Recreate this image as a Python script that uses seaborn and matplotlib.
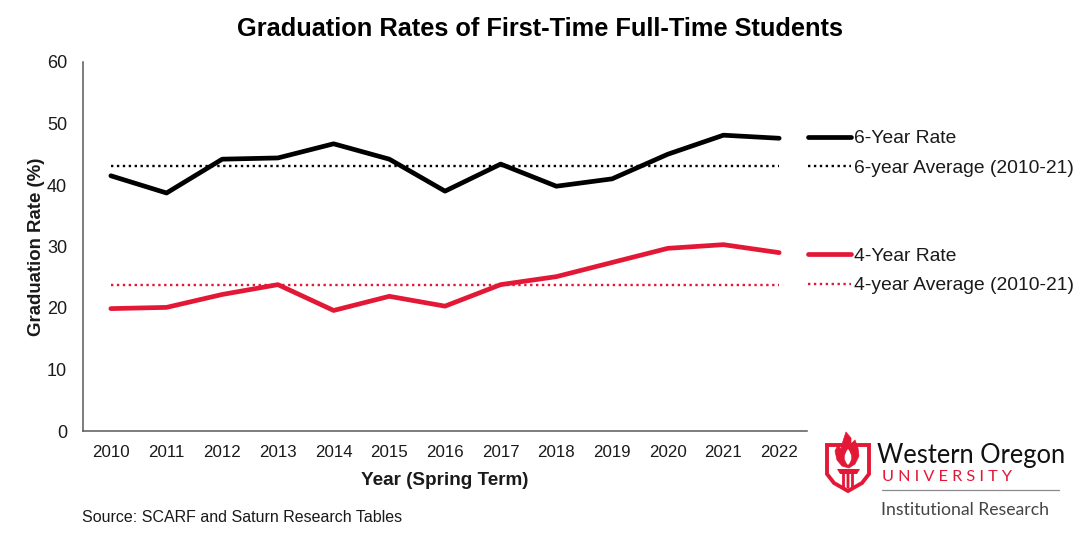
import matplotlib
matplotlib.use("Agg")
import matplotlib.pyplot as plt
from matplotlib.lines import Line2D
from matplotlib.patches import Polygon, PathPatch
from matplotlib.path import Path
import seaborn as sns
import pandas as pd

years = [2010, 2011, 2012, 2013, 2014, 2015, 2016, 2017, 2018, 2019, 2020, 2021, 2022]
rate_6yr = [41.5, 38.7, 44.2, 44.4, 46.7, 44.2, 39.0, 43.4, 39.8, 41.0, 45.0, 48.1, 47.6]
rate_4yr = [19.9, 20.1, 22.2, 23.8, 19.6, 21.9, 20.3, 23.8, 25.1, 27.4, 29.7, 30.3, 29.0]
avg_6yr = [43.1] * 13
avg_4yr = [23.7] * 13
yticks = [0, 10, 20, 30, 40, 50, 60]

BLACK = "#000000"
RED = "#E31837"
TXT = "#1a1a1a"

sns.set_theme(style="white")
plt.rcParams["font.family"] = ["Liberation Sans", "DejaVu Sans"]

W, H = 1080, 542
fig = plt.figure(figsize=(W / 100, H / 100), dpi=100)
ax = fig.add_axes([83 / W, 1 - 431 / H, (807 - 83) / W, (431 - 62) / H])

df = pd.DataFrame({"year": years, "r6": rate_6yr, "a6": avg_6yr, "r4": rate_4yr, "a4": avg_4yr})
dotted = (0, (1, 1.5))
sns.lineplot(data=df, x="year", y="r6", ax=ax, color=BLACK, lw=3.4, label="6-Year Rate")
sns.lineplot(data=df, x="year", y="a6", ax=ax, color=BLACK, lw=1.7, linestyle=dotted, label="6-year Average (2010-21)")
sns.lineplot(data=df, x="year", y="r4", ax=ax, color=RED, lw=3.4, label="4-Year Rate")
sns.lineplot(data=df, x="year", y="a4", ax=ax, color=RED, lw=1.7, linestyle=dotted, label="4-year Average (2010-21)")

ax.set_xlim(2009.5, 2022.5)
ax.set_ylim(0, 60)
ax.set_xticks(years)
ax.set_xticklabels([str(y) for y in years])
ax.set_yticks(yticks)
ax.tick_params(axis="x", length=0, labelsize=12.2, labelcolor=TXT, pad=10)
ax.tick_params(axis="y", length=0, labelsize=13, labelcolor=TXT, pad=11.5)
for s in ["top", "right"]:
    ax.spines[s].set_visible(False)
for s in ["left", "bottom"]:
    ax.spines[s].set_color("#595959")
    ax.spines[s].set_linewidth(1.1)
ax.set_xlabel("Year (Spring Term)", fontsize=13.6, fontweight="bold", color=TXT, labelpad=9)
ax.set_ylabel("Graduation Rate (%)", fontsize=13.4, fontweight="bold", color=TXT, labelpad=1)

# legend, with empty rows separating the two groups
h, l = ax.get_legend_handles_labels()
blank = Line2D([], [], color="none")
handles = [h[0], h[1], blank, blank, h[2], h[3]]
labels = [l[0], l[1], "", "", l[2], l[3]]
leg = ax.legend(handles, labels, loc="upper left", bbox_to_anchor=(808 / W, 1 - 130 / H),
                bbox_transform=fig.transFigure, frameon=False, fontsize=13.85,
                handlelength=2.24, handletextpad=0.16, labelspacing=0.62, borderpad=0, borderaxespad=0)
for t in leg.get_texts():
    t.set_color(TXT)

fig.text(540 / W, 1 - 29 / H, "Graduation Rates of First-Time Full-Time Students", ha="center", va="center",
         fontsize=18.3, fontweight="bold", color="#000000")
fig.text(82 / W, 1 - 517.5 / H, "Source: SCARF and Saturn Research Tables", ha="left", va="center",
         fontsize=11.5, color=TXT)

# logo
def P(x, y):
    return (x / W, 1 - y / H)

shield = [P(x, y) for x, y in [(827, 445), (869, 445), (869, 474), (862, 483), (848, 491), (834, 483), (827, 474)]]
fig.add_artist(Polygon(shield, closed=True, transform=fig.transFigure, fc="white", ec=RED, lw=2.8))
flame = [P(x, y) for x, y in [(846, 432), (851, 438), (851, 444), (855, 440), (858, 448), (859, 456), (855, 464), (849, 468),
                              (842, 466), (837, 460), (835, 451), (838, 445), (841, 449), (843, 441)]]
fig.add_artist(Polygon(flame, closed=True, transform=fig.transFigure, fc=RED, ec=RED, lw=0.5, joinstyle="round"))
hole = Path([P(848, 449), P(855, 458), P(848, 465), P(841, 458), P(848, 449)],
            [Path.MOVETO, Path.CURVE3, Path.CURVE3, Path.CURVE3, Path.CURVE3])
fig.add_artist(PathPatch(hole, transform=fig.transFigure, fc="white", ec="none"))
bowl = [P(x, y) for x, y in [(837, 469), (860, 469), (857, 474), (840, 474)]]
fig.add_artist(Polygon(bowl, closed=True, transform=fig.transFigure, fc=RED, ec="none"))
for cx in (843.5, 848, 852.5):
    col = [P(cx - 1.4, 474), P(cx + 1.4, 474), P(cx + 1.4, 489), P(cx - 1.4, 488)]
    fig.add_artist(Polygon(col, closed=True, transform=fig.transFigure, fc=RED, ec="none"))

fig.text(877 / W, 1 - 455 / H, "Western Oregon", ha="left", va="center", fontsize=18.4, color="#111111", family="Lato")
fig.text(882 / W, 1 - 477 / H, "U N I V E R S I T Y", ha="left", va="center", fontsize=11.7, color=RED, family="Lato")
fig.add_artist(Line2D([882 / W, 1059 / W], [1 - 490 / H, 1 - 490 / H], color="#8a8a8a", lw=0.9, transform=fig.transFigure))
fig.text(881 / W, 1 - 510 / H, "Institutional Research", ha="left", va="center", fontsize=12.7, color="#444444", family="Lato")

fig.savefig("out.png", dpi=100, facecolor="white")
